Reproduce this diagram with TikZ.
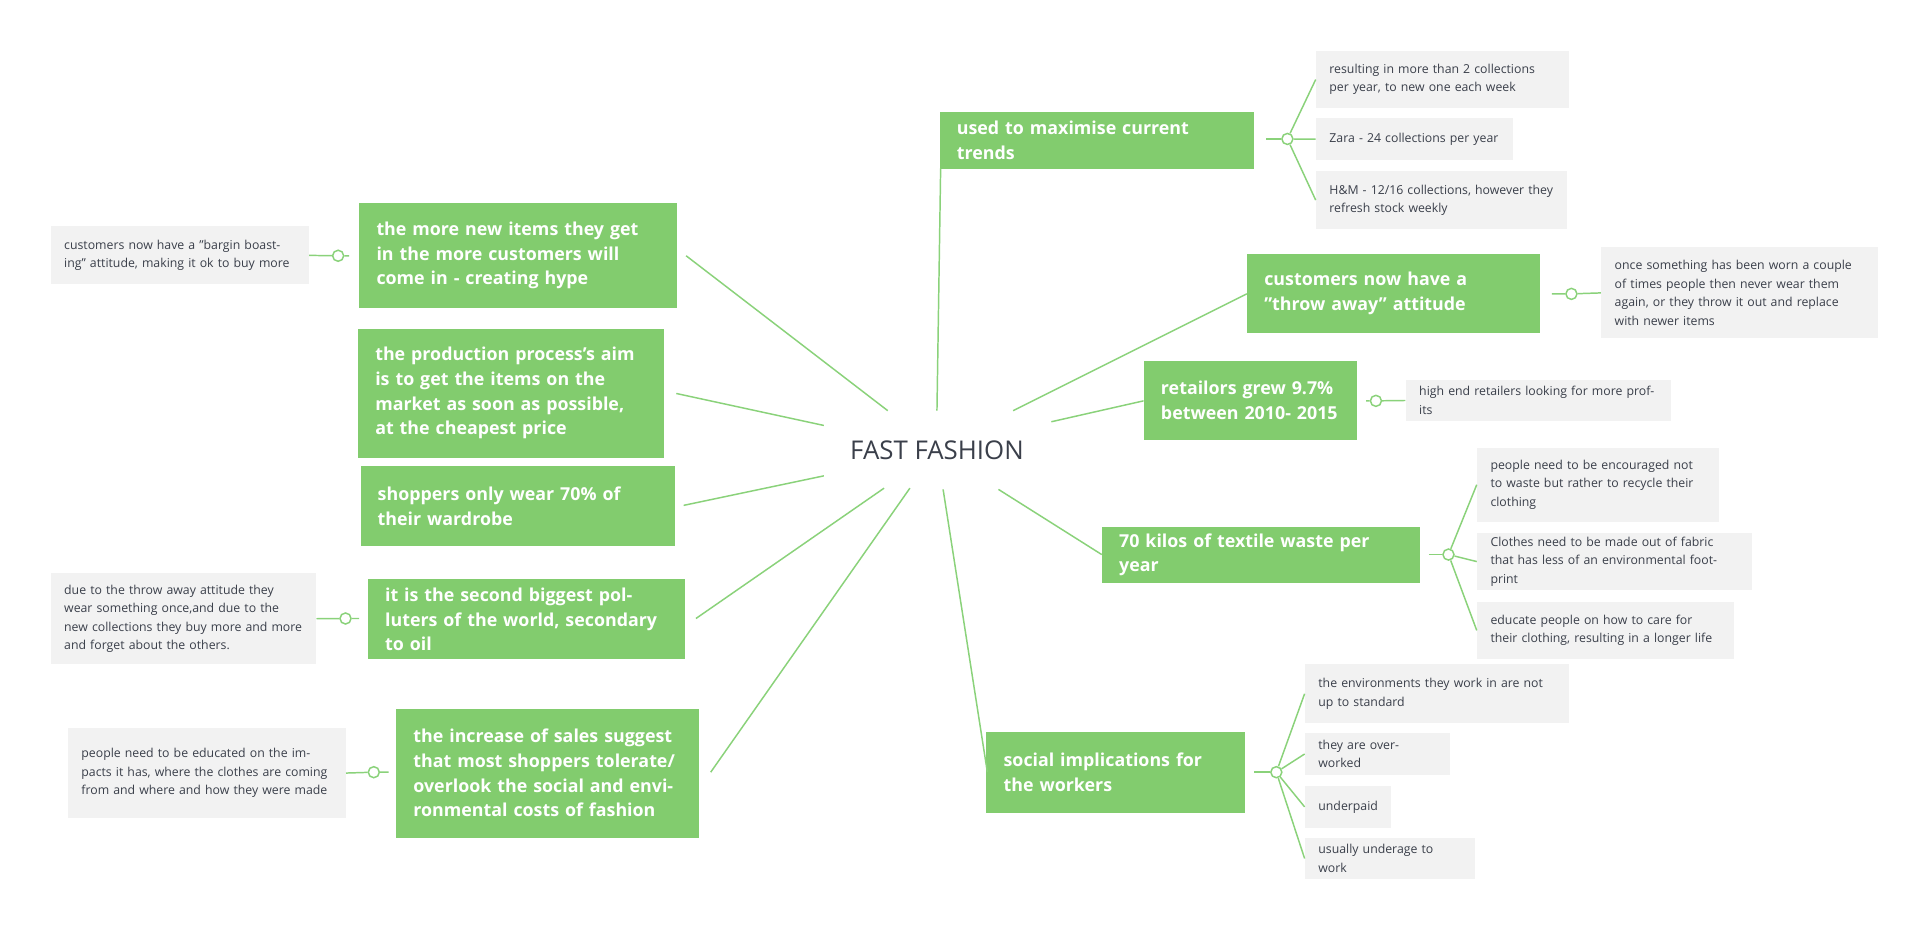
\documentclass[tikz,border=0pt]{standalone}
\usepackage{fontspec}
\setmainfont{Open Sans}
\definecolor{gfill}{HTML}{82CC6E}
\definecolor{gline}{HTML}{8AD27A}
\definecolor{grey}{HTML}{F2F2F2}
\definecolor{txt}{HTML}{3A3F4A}
\tikzset{
 gbox/.style={fill=gfill,text=white,font=\fontsize{14.5}{20}\selectfont\bfseries,align=left,inner xsep=14pt,inner ysep=0pt,anchor=north west},
 cbox/.style={fill=grey,text=txt,font=\fontsize{10}{15}\selectfont,align=left,inner xsep=11pt,inner ysep=0pt,anchor=north west},
 con/.style={draw=gline,line width=1.2pt},
 dot/.style={circle,draw=gline,line width=1.2pt,fill=white,inner sep=0pt,minimum size=9pt}
}
% #1 name #2 style #3 pad #4 x1 #5 y1 #6 x2 #7 y2 #8 text
\newcommand{\bx}[8]{\pgfmathsetmacro{\ww}{#6-#4}\pgfmathsetmacro{\hh}{#7-#5}\pgfmathsetmacro{\tw}{\ww-#3}%
\node[#2,minimum width=\ww pt,minimum height=\hh pt,text width=\tw pt] (#1) at (#4,#5) {#8};}
\newcommand{\gb}[6]{\bx{#1}{gbox}{28}{#2}{#3}{#4}{#5}{#6}}
\newcommand{\cb}[6]{\bx{#1}{cbox}{22}{#2}{#3}{#4}{#5}{#6}}
\begin{document}
\begin{tikzpicture}[x=1pt,y=-1pt]
\useasboundingbox[fill=white] (0,0) rectangle (1568,756);
\node[font=\fontsize{21}{24}\selectfont,text=txt] (c) at (762,366) {FAST FASHION};
% right
\gb{g1}{764}{91}{1020}{137}{used to maximise current trends}
\cb{a1}{1070}{41}{1276}{88}{resulting in more than 2 collections per year, to new one each week}
\cb{a2}{1070}{96}{1230}{130}{Zara - 24 collections per year}
\cb{a3}{1070}{139}{1274}{186}{H\&M - 12/16 collections, however they refresh stock weekly}
\gb{g2}{1014}{206}{1252}{271}{customers now have a "throw away" attitude}
\cb{b1}{1302}{201}{1527}{275}{once something has been worn a couple of times people then never wear them again, or they throw it out and replace with newer items}
\gb{g3}{930}{293}{1103}{358}{retailors grew 9.7\% between 2010- 2015}
\cb{c1}{1143}{309}{1359}{342}{high end retailers looking for more profits}
\gb{g4}{896}{428}{1155}{474}{70 kilos of textile waste per year}
\cb{d1}{1201}{364}{1398}{424}{people need to be encouraged not to waste but rather to recycle their clothing}
\cb{d2}{1201}{433}{1425}{480}{Clothes need to be made out of fabric that has less of an environmental footprint}
\cb{d3}{1201}{489}{1410}{536}{educate people on how to care for their clothing, resulting in a longer life}
\gb{g5}{802}{595}{1012}{661}{social implications for the workers}
\cb{e1}{1061}{540}{1276}{588}{the environments they work in are not up to standard}
\cb{e2}{1061}{596}{1179}{630}{they are overworked}
\cb{e3}{1061}{639}{1131}{673}{underpaid}
\cb{e4}{1061}{681}{1199}{715}{usually underage to work}
% left
\gb{l1}{292}{165}{550}{250}{the more new items they get in the more customers will come in - creating hype}
\cb{f1}{41}{184}{251}{231}{customers now have a "bargin boasting" attitude, making it ok to buy more}
\gb{l2}{291}{267}{540}{372}{the production process's aim is to get the items on the market as soon as possible, at the cheapest price}
\gb{l3}{293}{379}{549}{444}{shoppers only wear 70\% of their wardrobe}
\gb{l4}{299}{471}{557}{536}{it is the second biggest polluters of the world, secondary to oil}
\cb{h1}{41}{466}{257}{540}{due to the throw away attitude they wear something once,and due to the new collections they buy more and more and forget about the others.}
\gb{l5}{322}{576}{568}{681}{the increase of sales suggest that most shoppers tolerate/ overlook the social and environmental costs of fashion}
\cb{k1}{55}{592}{281}{665}{people need to be educated on the impacts it has, where the clothes are coming from and where and how they were made}
% center connectors
\coordinate (s1) at (762,334); \coordinate (t1) at (765,137);
\coordinate (s2) at (824,334); \coordinate (t2) at (1014,239);
\coordinate (s3) at (855,343); \coordinate (t3) at (930,326);
\coordinate (s4) at (812,398); \coordinate (t4) at (896,451);
\coordinate (s5) at (767,398); \coordinate (t5) at (803,628);
\coordinate (u1) at (722,334); \coordinate (v1) at (558,208);
\coordinate (u2) at (670,346); \coordinate (v2) at (550,320);
\coordinate (u3) at (670,387); \coordinate (v3) at (556,411);
\coordinate (u4) at (719,397); \coordinate (v4) at (566,503);
\coordinate (u5) at (740,397); \coordinate (v5) at (578,628);
\foreach \a/\b in {s1/t1,s2/t2,s3/t3,s4/t4,s5/t5,u1/v1,u2/v2,u3/v3,u4/v4,u5/v5} \draw[con] (\a)--(\b);
% child branches right
\node[dot] (p1) at (1047,113) {};
\draw[con] (1030,113) -- (p1);
\foreach \n in {a1,a2,a3} \draw[con] (p1) -- (\n.west);
\node[dot] (p2) at (1278,239) {};
\draw[con] (1262,239) -- (p2) (p2) -- (b1.west);
\node[dot] (p3) at (1119,326) {};
\draw[con] (1111,326) -- (p3) (p3) -- (c1.west);
\node[dot] (p4) at (1178,451) {};
\draw[con] (1162,451) -- (p4);
\foreach \n in {d1,d2,d3} \draw[con] (p4) -- (\n.west);
\node[dot] (p5) at (1038,628) {};
\draw[con] (1020,628) -- (p5);
\foreach \n in {e1,e2,e3,e4} \draw[con] (p5) -- (\n.west);
% left branches
\node[dot] (q1) at (275,208) {};
\draw[con] (284,208) -- (q1) (q1) -- (f1.east);
\node[dot] (q4) at (281,503) {};
\draw[con] (292,503) -- (q4) (q4) -- (h1.east);
\node[dot] (q5) at (304,628) {};
\draw[con] (316,628) -- (q5) (q5) -- (k1.east);
\end{tikzpicture}
\end{document}
